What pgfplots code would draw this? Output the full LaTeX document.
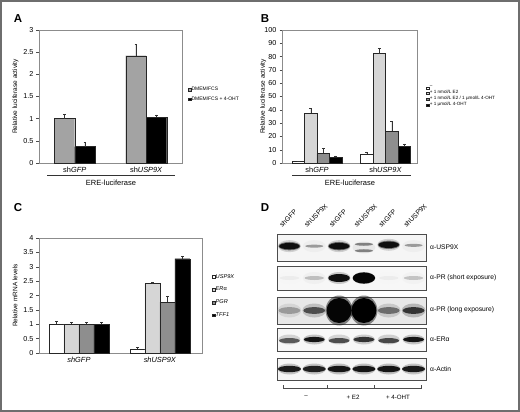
\documentclass[border=0pt]{standalone}
\usepackage{fontspec}
\setmainfont{Liberation Sans}
\usepackage{pgfplots}
\pgfplotsset{compat=1.18}
\definecolor{framec}{HTML}{6E6E6E}
\definecolor{axgray}{HTML}{8C8C8C}
\definecolor{barA}{HTML}{A3A3A3}
\definecolor{lgray}{HTML}{D6D6D6}
\definecolor{mgray}{HTML}{8E8E8E}
\pgfplotsset{
  bfig/.style={
    scale only axis, ybar=0pt, clip=false,
    axis line style={draw=axgray, line width=0.6pt},
    ytick pos=left, tick align=outside, major tick length=2.5pt,
    ytick style={draw=black!70, line width=0.4pt},
    xtick style={draw=none},
    /pgf/number format/assume math mode=true,
    yticklabel style={font=\fontsize{7.2}{8}\selectfont, xshift=0.5pt},
    xticklabel style={font=\fontsize{7.4}{8}\selectfont, yshift=1.5pt},
    ylabel style={font=\fontsize{6.5}{7}\selectfont},
    xtick={0,1},
    ymin=0,
    legend cell align=left,
    legend style={draw=none, fill=none, inner sep=0pt, nodes={inner sep=0.6pt}},
    legend image code/.code={\draw[##1, line width=0.3pt] (0pt,-1.3pt) rectangle (2.7pt,1.3pt);},
    every axis plot/.append style={draw=black!85, line width=0.35pt},
    error bars/y dir=plus, error bars/y explicit,
    error bars/error bar style={black!80, line width=0.35pt},
    error bars/error mark options={rotate=90, mark size=1.3pt, black!80, line width=0.35pt},
  },
  blot/.style={
    scale only axis, width=149pt, xmin=0.5, xmax=6.5, ymin=0, ymax=1,
    ticks=none, clip=true,
    axis line style={draw=black!70, line width=0.6pt},
    colormap={bw}{gray(0cm)=(0); gray(1cm)=(1)},
    point meta min=0, point meta max=1,
  },
  band/.style={scatter, only marks, mark=*, point meta=explicit,
    scatter/use mapped color={draw opacity=0, fill=mapped color}},
}
\begin{document}
\begin{tikzpicture}[x=1pt,y=1pt]
\useasboundingbox (0,0) rectangle (520,-412);
\fill[white] (0,0) rectangle (520,-412);
\draw[framec, line width=1.6pt] (0.8,-0.8) rectangle (519.2,-411.2);

% ---------- Panel A ----------
\node[font=\bfseries\fontsize{11.5}{12}\selectfont] at (18,-19) {A};
\begin{axis}[bfig, at={(39pt,-163pt)}, anchor=south west, width=143pt, height=133pt,
  xmin=-0.5, xmax=1.5, ymax=3, ytick={0,0.5,...,3}, bar width=20.5pt,
  xticklabels={sh\textit{GFP}, sh\textit{USP9X}},
  ylabel={Relative luciferase activity},
  ylabel style={at={(axis description cs:-0.165,0.5)}, anchor=center},
  legend style={at={(axis description cs:1.04,0.515)}, anchor=west,
    font=\fontsize{5}{5.5}\selectfont, row sep=3.2pt}]
\addplot[fill=barA] coordinates {(0,1.0) +- (0,0.10) (1,2.42) +- (0,0.25)};
\addplot[fill=black] coordinates {(0,0.37) +- (0,0.10) (1,1.03) +- (0,0.06)};
\legend{DMEM/FCS, DMEM/FCS + 4-OHT}
\end{axis}
\draw[black!80, line width=0.5pt] (47,-175) -- (175,-175);
\node[font=\fontsize{7.5}{8}\selectfont] at (111,-183) {ERE-luciferase};

% ---------- Panel B ----------
\node[font=\bfseries\fontsize{11.5}{12}\selectfont] at (265,-19) {B};
\begin{axis}[bfig, at={(282pt,-163pt)}, anchor=south west, width=135pt, height=133pt,
  xmin=-0.51, xmax=1.459, ymax=100, ytick={0,10,...,100}, bar width=12.5pt,
  xticklabels={sh\textit{GFP}, sh\textit{USP9X}},
  ylabel={Relative luciferase activity},
  ylabel style={at={(axis description cs:-0.14,0.5)}, anchor=center},
  legend style={at={(axis description cs:1.067,0.496)}, anchor=west,
    font=\fontsize{4.6}{5}\selectfont, row sep=0pt}]
\addplot[fill=white] coordinates {(0,1.0) +- (0,0.4) (1,6.8) +- (0,1.5)};
\addplot[fill=lgray] coordinates {(0,37.3) +- (0,3.8) (1,82.2) +- (0,3.9)};
\addplot[fill=mgray] coordinates {(0,7.3) +- (0,3.8) (1,24.0) +- (0,7.3)};
\addplot[fill=black] coordinates {(0,4.5) +- (0,1.0) (1,12.3) +- (0,2.2)};
\legend{--, + 1 nmol/L E2, + 1 nmol/L E2 / 1 µmol/L 4-OHT, + 1 µmol/L 4-OHT}
\end{axis}
\draw[black!80, line width=0.5pt] (292,-175) -- (411,-175);
\node[font=\fontsize{7.5}{8}\selectfont] at (350,-183) {ERE-luciferase};

% ---------- Panel C ----------
\node[font=\bfseries\fontsize{11.5}{12}\selectfont] at (18,-208) {C};
\begin{axis}[bfig, at={(39pt,-353pt)}, anchor=south west, width=163pt, height=115pt,
  xmin=-0.493, xmax=1.519, ymax=4, ytick={0,0.5,...,4}, bar width=15pt,
  xticklabels={\textit{shGFP}, \textit{shUSP9X}},
  ylabel={Relative mRNA levels},
  ylabel style={at={(axis description cs:-0.147,0.5)}, anchor=center},
  legend style={at={(axis description cs:1.061,0.496)}, anchor=west,
    font=\itshape\fontsize{5.6}{6}\selectfont, row sep=6.2pt}]
\addplot[fill=white] coordinates {(0,1.0) +- (0,0.10) (1,0.15) +- (0,0.05)};
\addplot[fill=lgray] coordinates {(0,1.0) +- (0,0.06) (1,2.42) +- (0,0.03)};
\addplot[fill=mgray] coordinates {(0,1.0) +- (0,0.07) (1,1.77) +- (0,0.19)};
\addplot[fill=black] coordinates {(0,1.0) +- (0,0.06) (1,3.28) +- (0,0.08)};
\legend{USP9X, ER\textup{α}, PGR, TFF1}
\end{axis}

% ---------- Panel D ----------
\node[font=\bfseries\fontsize{11.5}{12}\selectfont] at (265,-208) {D};
\foreach \i/\t in {1/shGFP,2/shUSP9X,3/shGFP,4/shUSP9X,5/shGFP,6/shUSP9X}{
  \node[font=\fontsize{6.8}{7}\selectfont, rotate=45, anchor=south west, inner sep=0pt]
    at ({277+24.83*(\i-0.5)-7},-228) {\t};
}
% USP9X
\begin{axis}[blot, at={(277pt,-261pt)}, anchor=south west, height=27pt,
  axis background/.style={fill=black!4}]
\addplot[band, mark size=6pt, mark options={xscale=1.9, opacity=0.25}] coordinates
  {(1,0.55) [0.4] (2,0.55) [0.85] (3,0.55) [0.35] (4,0.5) [0.75] (5,0.6) [0.4] (6,0.55) [0.85]};
\addplot[band, mark size=4.2pt, mark options={xscale=2.6, opacity=0.6}] coordinates
  {(1,0.55) [0.2] (3,0.55) [0.15] (5,0.6) [0.2]};
\addplot[band, mark size=3.2pt, mark options={xscale=3.2}] coordinates
  {(1,0.55) [0.06] (3,0.55) [0.05] (5,0.6) [0.06]};
\addplot[band, mark size=1.5pt, mark options={xscale=6}] coordinates
  {(2,0.55) [0.6] (4,0.62) [0.5] (4,0.38) [0.5] (6,0.58) [0.6]};
\end{axis}
% PR short
\begin{axis}[blot, at={(277pt,-290pt)}, anchor=south west, height=24pt,
  axis background/.style={fill=black!3}]
\addplot[band, mark size=6pt, mark options={xscale=1.9, opacity=0.3}] coordinates
  {(1,0.5) [0.95] (2,0.5) [0.88] (3,0.5) [0.35] (4,0.5) [0.25] (5,0.5) [0.95] (6,0.5) [0.9]};
\addplot[band, mark size=2pt, mark options={xscale=4.8}] coordinates
  {(1,0.5) [0.92] (2,0.5) [0.74] (5,0.5) [0.92] (6,0.5) [0.76]};
\addplot[band, mark size=4pt, mark options={xscale=2.7}] coordinates
  {(3,0.5) [0.06]};
\addplot[band, mark size=5.6pt, mark options={xscale=2.0}] coordinates
  {(4,0.5) [0.02]};
\end{axis}
% PR long
\begin{axis}[blot, at={(277pt,-324pt)}, anchor=south west, height=27pt,
  axis background/.style={fill=black!9}]
\addplot[band, mark size=7pt, mark options={xscale=1.7, opacity=0.35}] coordinates
  {(1,0.5) [0.7] (2,0.5) [0.45] (5,0.5) [0.55] (6,0.5) [0.35]};
\addplot[band, mark size=3.4pt, mark options={xscale=3.2}] coordinates
  {(1,0.5) [0.6] (2,0.5) [0.3] (5,0.5) [0.42] (6,0.5) [0.2]};
\addplot[band, mark size=15pt, mark options={xscale=0.9, opacity=0.5}] coordinates
  {(3,0.5) [0.1] (4,0.5) [0.1]};
\addplot[band, mark size=12.5pt, mark options={xscale=1.0}] coordinates
  {(3,0.5) [0.02] (4,0.5) [0.0]};
\end{axis}
% ER alpha
\begin{axis}[blot, at={(277pt,-351pt)}, anchor=south west, height=23pt,
  axis background/.style={fill=black!3}]
\addplot[band, mark size=5pt, mark options={xscale=2.2, opacity=0.3}] coordinates
  {(1,0.5) [0.5] (2,0.5) [0.3] (3,0.5) [0.5] (4,0.5) [0.4] (5,0.5) [0.45] (6,0.5) [0.3]};
\addplot[band, mark size=2.6pt, mark options={xscale=4.0}] coordinates
  {(1,0.45) [0.35] (2,0.5) [0.08] (3,0.45) [0.3] (4,0.5) [0.2] (5,0.45) [0.28] (6,0.5) [0.08]};
\end{axis}
% Actin
\begin{axis}[blot, at={(277pt,-380pt)}, anchor=south west, height=22pt,
  axis background/.style={fill=black!4}]
\addplot[band, mark size=5.5pt, mark options={xscale=2.1, opacity=0.3}] coordinates
  {(1,0.5) [0.3] (2,0.5) [0.3] (3,0.5) [0.25] (4,0.5) [0.25] (5,0.5) [0.25] (6,0.5) [0.3]};
\addplot[band, mark size=3.2pt, mark options={xscale=3.6}] coordinates
  {(1,0.5) [0.1] (2,0.5) [0.12] (3,0.5) [0.08] (4,0.5) [0.08] (5,0.5) [0.08] (6,0.5) [0.1]};
\end{axis}
\foreach \y/\t in {247/{α-USP9X},278/{α-PR (short exposure)},310/{α-PR (long exposure)},339/{α-ERα},369/{α-Actin}}{
  \node[font=\fontsize{6.7}{7}\selectfont, anchor=west, inner sep=0pt] at (430,-\y) {\t};
}
\draw[black!70, line width=0.4pt] (283,-385) -- (283,-388) -- (421,-388) -- (421,-385);
\draw[black!70, line width=0.4pt] (327,-385) -- (327,-388) (374,-385) -- (374,-388);
\foreach \x/\t in {306/--,353/+ E2,398/+ 4-OHT}{
  \node[font=\fontsize{6.2}{7}\selectfont] at (\x,-397) {\t};
}
\end{tikzpicture}
\end{document}
